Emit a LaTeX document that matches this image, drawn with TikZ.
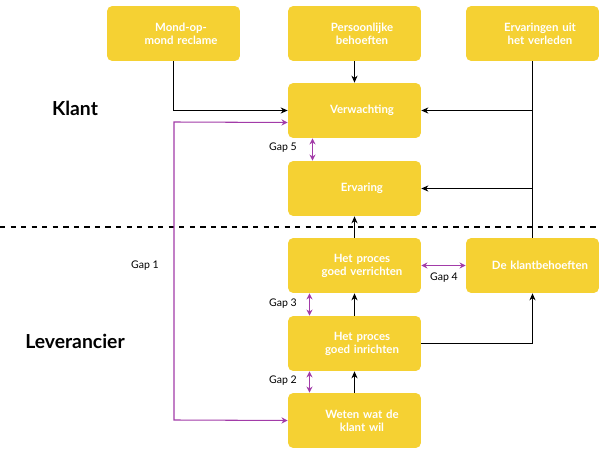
\documentclass[tikz,border=0pt]{standalone}
\usepackage{fontspec}
\setmainfont{Lato}
\usetikzlibrary{arrows.meta,calc}
\definecolor{boxy}{HTML}{F5D133}
\definecolor{gapc}{HTML}{A23BA8}
\begin{document}
\begin{tikzpicture}[x=0.02cm,y=-0.02cm,
  box/.style={fill=boxy,rounded corners=3pt,minimum width=2.66cm,minimum height=1.1cm,
    text=white,font=\fontsize{6.5}{7.5}\selectfont\bfseries,align=center,inner sep=0pt,text width=2.4cm},
  arr/.style={-{Stealth[length=4pt,width=3.5pt]},black,line width=0.6pt},
  gap/.style={{Stealth[length=3.5pt,width=3.5pt]}-{Stealth[length=3.5pt,width=3.5pt]},gapc,line width=0.6pt},
  gl/.style={font=\fontsize{6}{7}\selectfont,text=black},
  big/.style={font=\fontsize{11}{13}\selectfont\bfseries,text=black}]
\useasboundingbox (0,0) rectangle (600,456);
\node[box] (mond) at (173.5,33.5) {\hspace*{0.3cm}Mond-op-\\\hspace*{0.3cm}mond reclame};
\node[box] (pers) at (354.5,33.5) {\hspace*{0.3cm}Persoonlijke\\\hspace*{0.3cm}behoeften};
\node[box] (ervv) at (532.5,33.5) {\hspace*{0.3cm}Ervaringen uit\\\hspace*{0.3cm}het verleden};
\node[box] (verw) at (354.5,110.5) {\hspace*{0.3cm}Verwachting};
\node[box] (erv) at (354.5,188.5) {\hspace*{0.3cm}Ervaring};
\node[box] (verr) at (354.5,265.5) {\hspace*{0.3cm}Het proces\\\hspace*{0.3cm}goed verrichten};
\node[box] (klb) at (532.5,265.5) {\hspace*{0.3cm}De klantbehoeften};
\node[box] (inr) at (354.5,343.5) {\hspace*{0.3cm}Het proces\\\hspace*{0.3cm}goed inrichten};
\node[box] (wet) at (354.5,420.5) {\hspace*{0.3cm}Weten wat de\\\hspace*{0.3cm}klant wil};
\node[big] (klant) at (75,108) {Klant};
\node[big] (lev) at (75,341) {Leverancier};
\coordinate (dl) at (0,227); \coordinate (dr) at (600,227);
\draw[dashed,line width=0.6pt] (dl) -- (dr);
% black arrows
\draw[arr] (mond.south) |- (verw.west);
\draw[arr] (pers) -- (verw);
\draw[line width=0.6pt] (ervv.south) -- (klb.north);
\draw[arr] (ervv.south |- verw.east) -- (verw.east);
\draw[arr] (ervv.south |- erv.east) -- (erv.east);
\draw[arr] (verr) -- (erv);
\draw[arr] (inr) -- (verr);
\draw[arr] (wet) -- (inr);
\draw[arr] (inr.east) -| (klb.south);
% gaps
\draw[gap] ([xshift=-0.84cm]verw.south) -- ([xshift=-0.84cm]erv.north);
\node[gl] (g5) at (283,148) {Gap 5};
\draw[gap] ([xshift=-0.9cm]verr.south) -- ([xshift=-0.9cm]inr.north);
\node[gl] (g3) at (283,304) {Gap 3};
\draw[gap] ([xshift=-0.9cm]inr.south) -- ([xshift=-0.9cm]wet.north);
\node[gl] (g2) at (283,381) {Gap 2};
\draw[gap] (verr.east) -- (klb.west);
\node[gl] (g4) at (444,278) {Gap 4};
\coordinate (c1) at (174,122); \coordinate (c2) at (174,420);
\draw[gap] ([yshift=-0.24cm]verw.west) -- (c1) -- (c2) -- (wet.west);
\node[gl] (g1) at (145,266) {Gap 1};
\end{tikzpicture}
\end{document}
